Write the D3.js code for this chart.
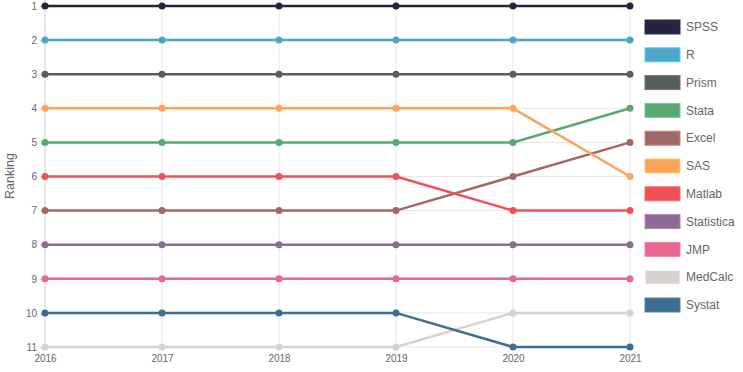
<!DOCTYPE html>
<html>
<head>
<meta charset="utf-8">
<script src="https://cdn.jsdelivr.net/npm/d3@7"></script>
<style>
  body { margin: 0; background: #fff; }
  svg { font-family: "Liberation Sans", Arial, sans-serif; }
</style>
</head>
<body>
<svg id="chart" width="743" height="372"></svg>
<script>
// data
var years = [2016, 2017, 2018, 2019, 2020, 2021];
var software = ["SPSS", "R", "Prism", "Stata", "Excel", "SAS", "Matlab", "Statistica", "JMP", "MedCalc", "Systat"];
var colors = ["#25233f", "#4ba6c8", "#56605a", "#59a872", "#a26868", "#fea35a", "#f05156", "#8e6a96", "#e8678f", "#d9d1d0", "#3e6e8f"];
var rankTicks = [1, 2, 3, 4, 5, 6, 7, 8, 9, 10, 11];

var spss       = [1, 1, 1, 1, 1, 1];
var r          = [2, 2, 2, 2, 2, 2];
var prism      = [3, 3, 3, 3, 3, 3];
var stata      = [5, 5, 5, 5, 5, 4];
var excel      = [7, 7, 7, 7, 6, 5];
var sas        = [4, 4, 4, 4, 4, 6];
var matlab     = [6, 6, 6, 6, 7, 7];
var statistica = [8, 8, 8, 8, 8, 8];
var jmp        = [9, 9, 9, 9, 9, 9];
var medcalc    = [11, 11, 11, 11, 10, 10];
var systat     = [10, 10, 10, 10, 11, 11];

var ranks = [spss, r, prism, stata, excel, sas, matlab, statistica, jmp, medcalc, systat];

var svg = d3.select("#chart");

var x = d3.scalePoint().domain(years).range([45, 630]);
var y = d3.scaleLinear().domain([1, 11]).range([6, 347]);

// grid
var grid = svg.append("g");
grid.selectAll("line.h").data(rankTicks).enter().append("line")
    .attr("x1", 45).attr("x2", 630)
    .attr("y1", function(d) { return y(d); })
    .attr("y2", function(d) { return y(d); })
    .attr("stroke", "#e6e6e6").attr("stroke-width", 1);
grid.selectAll("line.v").data(years).enter().append("line")
    .attr("x1", function(d) { return x(d); })
    .attr("x2", function(d) { return x(d); })
    .attr("y1", 0).attr("y2", 349)
    .attr("stroke", function(d, i) { return i == 0 ? "#cccccc" : "#e6e6e6"; })
    .attr("stroke-width", 1);

// y axis
var yAxis = svg.append("g")
    .attr("transform", "translate(45,0)")
    .call(d3.axisLeft(y).tickValues(rankTicks).tickSize(5).tickPadding(3).tickFormat(d3.format("d")));
yAxis.select(".domain").remove();
yAxis.selectAll(".tick line").attr("stroke", "#cccccc");
yAxis.selectAll(".tick text").attr("fill", "#666").style("font-size", "10px");

// x axis
var xAxis = svg.append("g")
    .attr("transform", "translate(0,350)")
    .call(d3.axisBottom(x).tickSize(0).tickPadding(5).tickFormat(d3.format("d")));
xAxis.select(".domain").remove();
xAxis.selectAll(".tick text").attr("fill", "#666").style("font-size", "10px");

svg.append("text")
    .attr("transform", "translate(14,176) rotate(-90)")
    .attr("text-anchor", "middle")
    .attr("fill", "#666")
    .style("font-size", "12.5px")
    .text("Ranking");

// lines + points
var line = d3.line()
    .x(function(d, i) { return x(years[i]); })
    .y(function(d) { return y(d); });

var series = svg.append("g").selectAll("g").data(ranks).enter().append("g");

series.append("path")
    .attr("d", function(d) { return line(d); })
    .attr("fill", "none")
    .attr("stroke", function(d, i) { return colors[i]; })
    .attr("stroke-width", 2.5);

series.each(function(d, i) {
  d3.select(this).selectAll("circle").data(d).enter().append("circle")
      .attr("cx", function(v, j) { return x(years[j]); })
      .attr("cy", function(v) { return y(v); })
      .attr("r", 3.5)
      .attr("fill", colors[i]);
});

// legend
var legend = svg.append("g").selectAll("g").data(software).enter().append("g")
    .attr("transform", function(d, i) { return "translate(645," + (20 + i * 27.8) + ")"; });
legend.append("rect")
    .attr("width", 35).attr("height", 14)
    .attr("fill", function(d, i) { return colors[i]; })
    .attr("stroke", function(d, i) { return d3.color(colors[i]).brighter(0.6); })
    .attr("stroke-width", 1);
legend.append("text")
    .attr("x", 41).attr("y", 7).attr("dy", "0.35em")
    .attr("fill", "#666")
    .style("font-size", "12px")
    .text(function(d) { return d; });
</script>
</body>
</html>
